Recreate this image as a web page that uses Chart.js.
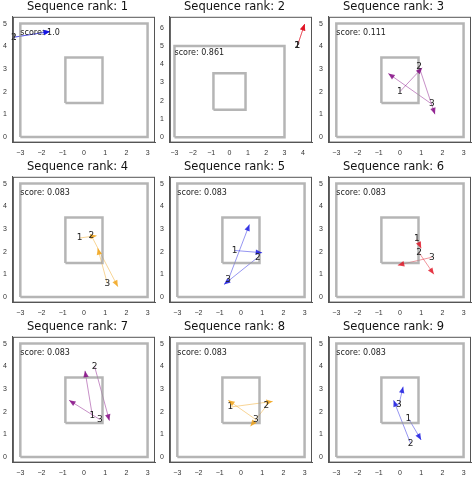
<!DOCTYPE html>
<html>
<head>
<meta charset="utf-8">
<script src="https://cdn.jsdelivr.net/npm/chart.js@4/dist/chart.umd.min.js"></script>
<style>
  body { margin: 0; background: #fff; font-family: "DejaVu Sans", sans-serif; }
  .cell { position: absolute; width: 158px; height: 160px; }
</style>
</head>
<body>
<div id="grid"></div>
<script>
// data
let ranks = [1, 2, 3, 4, 5, 6, 7, 8, 9];
let scores = ["1.0", "0.861", "0.111", "0.083", "0.083", "0.083", "0.083", "0.083", "0.083"];
let seqColors = ["#1010e0", "#e01020", "#800080", "#f0a010", "#1010e0", "#e01020", "#800080", "#f0a010", "#1010e0"];
let startPoints = [
  [[-3.3, 4.4], [-3.3, 4.4]],
  [[3.7, 5.0], [3.7, 5.0]],
  [[0.0, 2.0], [0.9, 3.1], [1.5, 1.45]],
  [[-0.2, 2.6], [0.35, 2.7], [1.1, 0.6]],
  [[-0.3, 2.05], [0.8, 1.75], [-0.6, 0.75]],
  [[0.8, 2.55], [0.9, 1.95], [1.5, 1.75]],
  [[0.4, 1.8], [0.5, 4.0], [0.75, 1.65]],
  [[-0.5, 2.2], [1.2, 2.25], [0.7, 1.65]],
  [[0.4, 1.7], [0.5, 0.6], [-0.05, 2.3]]
];
let endPoints = [
  [[-1.6, 4.65], [-1.6, 4.65]],
  [[4.1, 6.2], [4.1, 6.2]],
  [[1.05, 3.05], [1.65, 1.0], [-0.55, 2.8]],
  [[0.6, 2.7], [1.6, 0.45], [0.65, 2.15]],
  [[1.0, 1.95], [-0.8, 0.55], [0.4, 3.2]],
  [[1.0, 2.15], [1.6, 1.0], [-0.1, 1.4]],
  [[0.05, 3.8], [1.2, 1.6], [-0.7, 2.5]],
  [[1.5, 2.45], [0.45, 1.35], [-0.6, 2.5]],
  [[1.0, 0.75], [-0.3, 2.5], [0.15, 3.1]]
];
let outerRoom = [[-3, 0], [3, 0], [3, 5], [-3, 5], [-3, 0]];
let innerRoom = [[-0.875, 1.5], [0.875, 1.5], [0.875, 3.5], [-0.875, 3.5], [-0.875, 1.5]];
let xTicks = [-3, -2, -1, 0, 1, 2, 3, 4];

let lefts = [0, 157, 316];
let tops = [0, 160, 320];

let arrowPlugin = {
  id: "arrows",
  afterDatasetsDraw(chart) {
    let ctx = chart.ctx;
    let i = chart.options.plugins.arrows.index;
    let sx = chart.scales.x, sy = chart.scales.y;
    let col = seqColors[i];
    ctx.save();
    startPoints[i].forEach((s, k) => {
      let e = endPoints[i][k];
      let x0 = sx.getPixelForValue(s[0]), y0 = sy.getPixelForValue(s[1]);
      let x1 = sx.getPixelForValue(e[0]), y1 = sy.getPixelForValue(e[1]);
      let a = Math.atan2(y1 - y0, x1 - x0);
      ctx.fillStyle = col;
      ctx.globalAlpha = 0.8;
      ctx.beginPath();
      ctx.moveTo(x1, y1);
      ctx.lineTo(x1 - 7 * Math.cos(a - 0.4), y1 - 7 * Math.sin(a - 0.4));
      ctx.lineTo(x1 - 7 * Math.cos(a + 0.4), y1 - 7 * Math.sin(a + 0.4));
      ctx.closePath();
      ctx.fill();
      ctx.globalAlpha = 1;
      ctx.fillStyle = "#222";
      ctx.font = "9px 'DejaVu Sans'";
      ctx.textAlign = "center";
      ctx.textBaseline = "middle";
      ctx.fillText(String(k + 1), x0, y0);
    });
    ctx.fillStyle = "#222";
    ctx.font = "8px 'DejaVu Sans'";
    ctx.textAlign = "left";
    ctx.textBaseline = "middle";
    ctx.fillText("score: " + scores[i], sx.getPixelForValue(-3), sy.getPixelForValue(4.6));
    // frame around the plot area
    let ca = chart.chartArea;
    ctx.strokeStyle = "#555";
    ctx.lineWidth = 1;
    ctx.strokeRect(ca.left + 0.5, ca.top + 0.5, ca.right - ca.left - 1, ca.bottom - ca.top - 1);
    ctx.restore();
  }
};

function makePanel(i) {
  let div = document.createElement("div");
  div.className = "cell";
  div.style.left = lefts[i % 3] + "px";
  div.style.top = tops[Math.floor(i / 3)] + "px";
  let cv = document.createElement("canvas");
  div.appendChild(cv);
  document.getElementById("grid").appendChild(div);

  let wide = i == 1;
  let datasets = [outerRoom, innerRoom].map(r => ({
    data: r.map(p => ({ x: p[0], y: p[1] })),
    showLine: true, borderColor: "rgba(150,150,150,0.7)", borderWidth: 2.5, pointRadius: 0
  }));
  startPoints[i].forEach((s, k) => {
    let e = endPoints[i][k];
    datasets.push({
      data: [{ x: s[0], y: s[1] }, { x: e[0], y: e[1] }],
      showLine: true, borderColor: seqColors[i] + "70", borderWidth: 1, pointRadius: 0
    });
  });

  new Chart(cv, {
    type: "scatter",
    data: { datasets: datasets },
    plugins: [arrowPlugin],
    options: {
      responsive: true, maintainAspectRatio: false, animation: false,
      layout: { padding: { right: 3 } },
      plugins: {
        legend: { display: false }, tooltip: { enabled: false },
        title: { display: true, text: "Sequence rank: " + ranks[i], color: "#111",
          font: { size: 11.5, family: "DejaVu Sans", weight: "normal" }, padding: { top: 0, bottom: 3 } },
        arrows: { index: i }
      },
      scales: {
        x: {
          min: wide ? -3.25 : -3.35, max: wide ? 4.5 : 3.35,
          afterBuildTicks: ax => { ax.ticks = xTicks.filter(v => v <= ax.max).map(v => ({ value: v })); },
          grid: { display: false, drawTicks: true, tickLength: 3 },
          border: { color: "#555" },
          ticks: { font: { size: 7 }, color: "#333", maxRotation: 0, autoSkip: false,
            callback: v => (v < 0 ? "\u2212" + (-v) : v) }
        },
        y: {
          min: wide ? -0.3 : -0.25, max: wide ? 6.6 : 5.3,
          afterBuildTicks: ax => { let t = []; for (let v = 0; v <= ax.max; v++) t.push({ value: v }); ax.ticks = t; },
          grid: { display: false, tickLength: 3 },
          border: { color: "#555" },
          ticks: { font: { size: 7 }, color: "#333" }
        }
      }
    }
  });
}

for (let i = 0; i < ranks.length; i++) makePanel(i);
</script>
</body>
</html>
